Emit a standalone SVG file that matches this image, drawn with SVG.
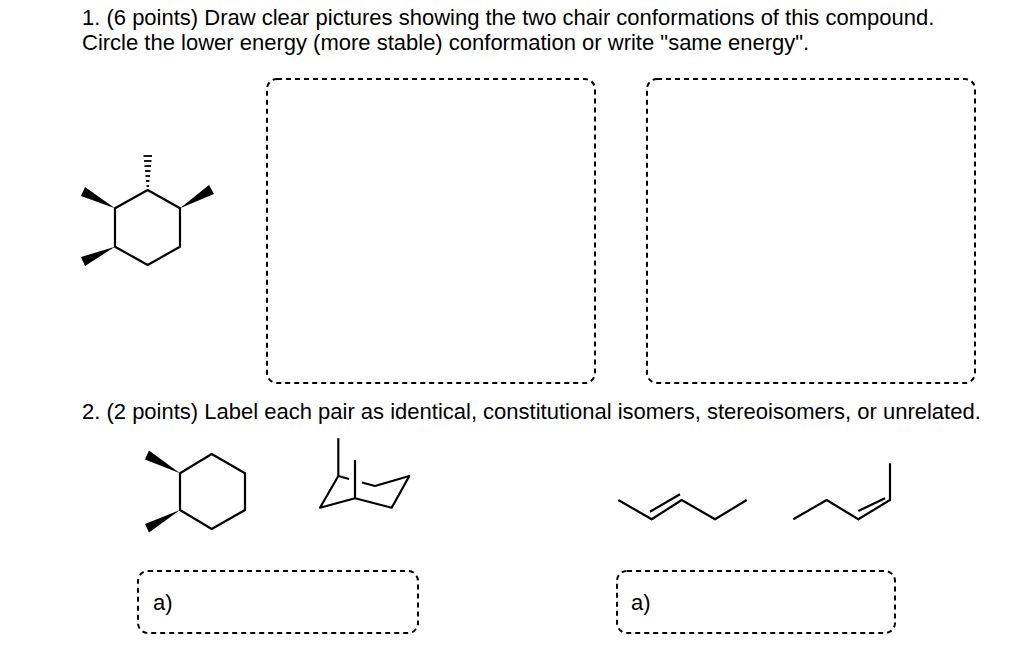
<svg xmlns="http://www.w3.org/2000/svg" width="1024" height="656" viewBox="0 0 1024 656">
<style>
text{font-family:"Liberation Sans",Arial,sans-serif;font-size:22px;fill:#000}
.b{fill:none;stroke:#000;stroke-width:2.2;stroke-linejoin:round}
.box{fill:none;stroke:#000;stroke-width:2;stroke-dasharray:5,4}
.w{fill:#000}
</style>
<rect width="1024" height="656" fill="#fff"/>
<text x="82" y="25">1. (6 points) Draw clear pictures showing the two chair conformations of this compound.</text>
<text x="82" y="50">Circle the lower energy (more stable) conformation or write "same energy".</text>
<text x="82" y="419">2. (2 points) Label each pair as identical, constitutional isomers, stereoisomers, or unrelated.</text>
<g id="box1"><rect class="box" x="267" y="79" width="328" height="304" rx="10"/></g>
<g id="box2"><rect class="box" x="647" y="79" width="328" height="304" rx="10"/></g>
<g id="boxa1"><rect class="box" x="138" y="571" width="280" height="62" rx="10"/><text x="153" y="610">a)</text></g>
<g id="boxa2"><rect class="box" x="617" y="571" width="278" height="62" rx="10"/><text x="631" y="610">a)</text></g>
<g id="mol1">
<polygon class="b" points="147.7,190 180,208.3 180,246.7 147.7,265 115,246.7 115,208.3"/>
<polygon class="w" points="115,208.3 81,196 85,187"/>
<polygon class="w" points="180,208.3 209,185 214,194"/>
<polygon class="w" points="115,246.7 81,257 85,266"/>
<g stroke="#000" stroke-width="1.8">
<line x1="146.5" y1="186" x2="149" y2="186"/><line x1="146" y1="181" x2="149.5" y2="181"/><line x1="145.5" y1="176" x2="150" y2="176"/><line x1="145" y1="171" x2="150.5" y2="171"/><line x1="144.5" y1="166" x2="151" y2="166"/><line x1="144" y1="161" x2="151.5" y2="161"/><line x1="143.5" y1="156" x2="152" y2="156"/>
</g>
</g>
<g id="mol2">
<polygon class="b" points="211.7,454 245,473.3 245,510 211.7,529 180,510 180,473.3"/>
<polygon class="w" points="180,473.3 145,459.5 149,450.5"/>
<polygon class="w" points="180,510 145,524 149,532.5"/>
</g>
<g id="mol3">
<polyline class="b" points="338.3,438.3 338.3,476 320,507.7 355,498.3 391.7,507.7 409.3,476 375,486 362,482.5"/>
<line class="b" x1="338.3" y1="476" x2="349" y2="479"/>
<line class="b" x1="355" y1="460" x2="355" y2="498.3"/>
</g>
<g id="mol4">
<polyline class="b" points="618.3,500 651.7,519.3 681.7,500 715,519.3 746.7,500"/>
<line class="b" x1="650" y1="511.7" x2="680" y2="494.3"/>
</g>
<g id="mol5">
<polyline class="b" points="793.3,519.3 826.7,500 858.3,519.3 890,500 890,463.3"/>
<line class="b" x1="858.3" y1="511" x2="885" y2="498.3"/>
</g>
<g id="connectors"/>
</svg>
